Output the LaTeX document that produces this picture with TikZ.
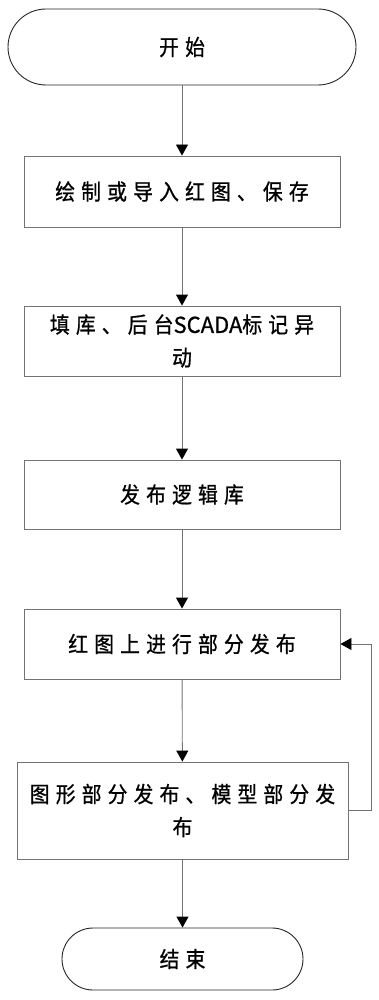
\documentclass[tikz,border=0pt]{standalone}
\usepackage{fontspec}
\usetikzlibrary{arrows.meta}
\newfontfamily\cjk[LetterSpace=28,FakeStretch=0.9,FakeBold=0.8]{Noto Sans CJK SC}
\newfontfamily\lat[FakeStretch=1.0,FakeBold=0.8]{Noto Sans CJK SC}
\tikzset{
  box/.style={draw=black!55, line width=0.9pt, align=center, inner sep=0pt, font=\cjk\fontsize{22}{33}\selectfont},
  term/.style={box, draw=black!85},
  flow/.style={draw=black!55, line width=0.9pt, -{Triangle[width=12pt,length=11pt,black]}}
}
\begin{document}
\begin{tikzpicture}[x=1pt,y=-1pt]
\useasboundingbox (0,0) rectangle (378,1000);
\node[term, minimum width=348pt, minimum height=76pt, rounded corners=38pt] (start) at (182,47) {开始};
\node[box, minimum width=316pt, minimum height=71pt] (b2) at (182,191.5) {绘制或导入红图、保存};
\node[box, minimum width=316pt, minimum height=70pt] (b3) at (182,341) {填库、后台{\lat SCADA}标记异\\动};
\node[box, minimum width=316pt, minimum height=69pt] (b4) at (182,494.5) {发布逻辑库};
\node[box, minimum width=316pt, minimum height=70pt] (b5) at (182,644) {红图上进行部分发布};
\node[box, minimum width=331pt, minimum height=97pt] (b6) at (182.5,810.5) {图形部分发布、模型部分发\\布};
\node[term, minimum width=241pt, minimum height=62pt, rounded corners=31pt] (end) at (182.5,959) {结束};
\draw[flow] (start) -- (b2);
\draw[flow] (b2) -- (b3);
\draw[flow] (b3) -- (b4);
\draw[flow] (b4) -- (b5);
\draw[flow] (b5) -- (b6);
\draw[flow] (b6) -- (end);
\coordinate (fb) at (371,644);
\draw[flow] (b6.east) -| (fb) -- (b5.east);
\end{tikzpicture}
\end{document}
